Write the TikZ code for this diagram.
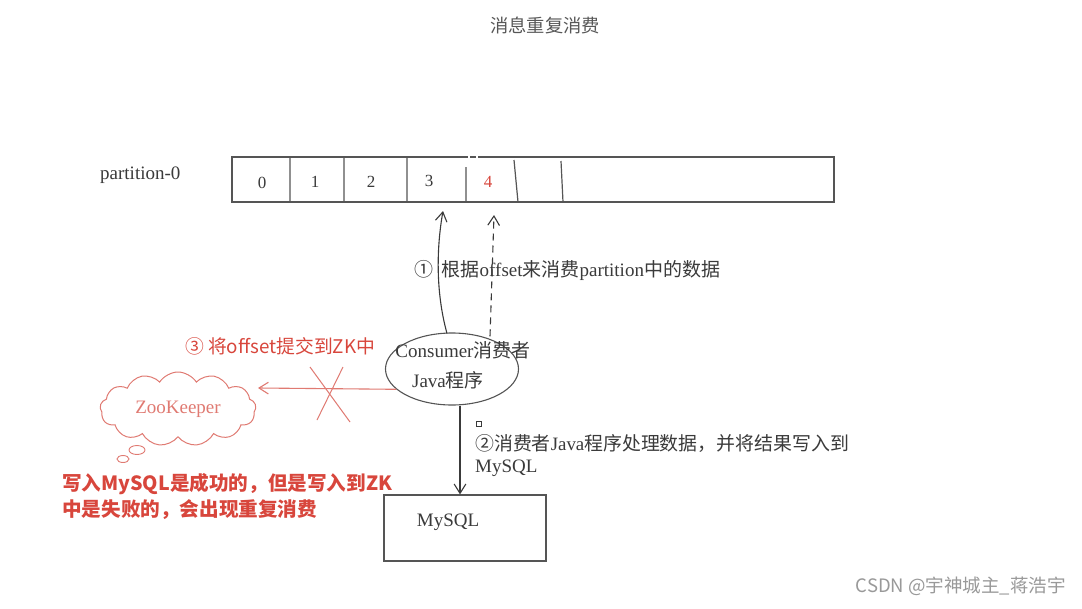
\documentclass[tikz,border=0pt]{standalone}
\usepackage{fontspec}
\setmainfont{Liberation Serif}
\newfontfamily\cjk{Noto Sans CJK SC}
\usetikzlibrary{shapes.geometric,shapes.symbols,arrows.meta,calc}
\definecolor{redtxt}{HTML}{D8463C}
\definecolor{redline}{HTML}{E07A72}
\definecolor{ink}{HTML}{3A3A3A}
\definecolor{boxline}{HTML}{555555}
\tikzset{
  arr/.style={draw=ink, line width=1.1pt, -{Straight Barb[angle=64:11pt]}},
  redarr/.style={draw=redline, line width=1.1pt, -{Straight Barb[angle=64:11pt]}},
  num/.style={font=\fontsize{17}{17}\selectfont, text=ink},
  note/.style={font=\fontsize{19}{22}\selectfont, text=ink, anchor=west, inner sep=0},
  rednote/.style={text=redtxt, anchor=west, inner sep=0},
}
\begin{document}
\begin{tikzpicture}[x=1pt,y=-1pt]
\useasboundingbox[fill=white] (0,0) rectangle (1082,608);
% title
\node[font=\fontsize{18.3}{18}\selectfont\cjk, text=ink!85] (title) at (545,25) {消息重复消费};
% partition
\node[anchor=west, inner sep=0, font=\fontsize{19}{19}\selectfont, text=ink] (plabel) at (100,175) {partition-0};
\node[draw=boxline, line width=1.2pt, minimum width=602pt, minimum height=45pt, inner sep=0] (part) at (533,179.5) {};
\draw[boxline, line width=1.2pt] (290,157)--(290,202) (344,157)--(344,202) (407,157)--(407,202)
  (466,167)--(466,202) (514,160)--(518,202) (561,161)--(563,202);
\draw[white, line width=1.8pt] (468,157)--(470,157) (476,157)--(478,157);
\node[num] (n0) at (262,183) {0};
\node[num] (n1) at (315,182) {1};
\node[num] (n2) at (371,182) {2};
\node[num] (n3) at (429,181) {3};
\node[num, text=redtxt] (n4) at (488,182) {4};
% consumer
\node[ellipse, draw=boxline, line width=1.1pt, minimum width=133pt, minimum height=72pt] (cons) at (452,369) {};
\node[font=\fontsize{19}{19}\selectfont, text=ink, inner sep=0] (ct1) at (463,350) {Consumer{\cjk 消费者}};
\node[font=\fontsize{19}{19}\selectfont, text=ink, inner sep=0] (ct2) at (448,380) {Java{\cjk 程序}};
% arrows up
\coordinate (t3) at (443,211);
\coordinate (t4) at (494,215);
\draw[arr] ($(cons.north)+(-5,1)$) .. controls (435,290) and (437,245) .. (t3);
\draw[arr, dash pattern=on 7pt off 5pt] ($(cons.north)+(38,4)$) -- (t4);
\node[note, font=\fontsize{19}{22}\selectfont\cjk] (l1) at (414,270) {① \ 根据\rmfamily offset\cjk 来消费\rmfamily partition\cjk 中的数据};
% MySQL
\node[draw=boxline, line width=1.2pt, minimum width=162pt, minimum height=66pt] (mysql) at (465,528) {};
\node[font=\fontsize{19}{19}\selectfont, text=ink] (mt) at (448,522) {MySQL};
\draw[arr] ([xshift=8pt]cons.south) -- ([xshift=-5pt]mysql.north);
\node[draw=ink, line width=0.8pt, minimum size=5pt, inner sep=0] (sq) at (479,424) {};
\node[note, font=\fontsize{18.9}{22}\selectfont\cjk] (l2a) at (475,444) {②消费者\rmfamily Java\cjk 程序处理数据，并将结果写入到};
\node[note] (l2b) at (475,468) {MySQL};
% zookeeper
\node[cloud, cloud puffs=13, cloud puff arc=115, aspect=2.1, draw=redline, line width=1pt, minimum width=156pt, minimum height=74pt, inner sep=0, text=redline, font=\fontsize{19}{19}\selectfont] (zk) at (178,409) {ZooKeeper};
\node[ellipse, draw=redline, line width=0.9pt, minimum width=16pt, minimum height=9pt, inner sep=0] (b1) at (137,450) {};
\node[ellipse, draw=redline, line width=0.9pt, minimum width=12pt, minimum height=7pt, inner sep=0] (b2) at (123,459) {};
\coordinate (zkend) at (258,388);
\draw[redarr] (cons.200) -- (zkend);
\draw[redline, line width=1pt] (310,367)--(350,422) (343,367)--(317,420);
\node[rednote, font=\fontsize{18.8}{22}\selectfont\cjk] (l3) at (185,346) {③ 将offset提交到ZK中};
% red note
\node[rednote, font=\fontsize{19.6}{26}\selectfont\cjk\bfseries] (r1) at (62,484) {写入MySQL是成功的，但是写入到ZK};
\node[rednote, font=\fontsize{19.6}{26}\selectfont\cjk\bfseries] (r2) at (62,510) {中是失败的，会出现重复消费};
% watermark
\node[font=\fontsize{18.5}{18}\selectfont\cjk, text=gray!80, anchor=east, inner sep=0] (wm) at (1066,586) {CSDN @宇神城主\_蒋浩宇};
\end{tikzpicture}
\end{document}
